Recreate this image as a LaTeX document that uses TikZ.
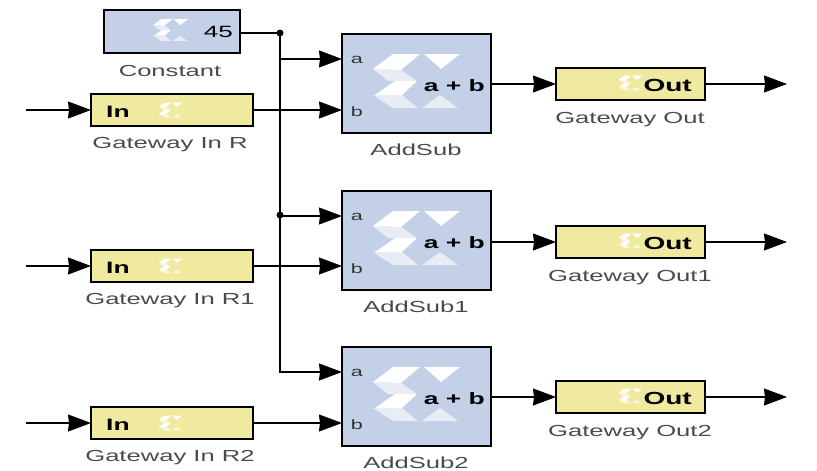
\documentclass[tikz,border=0pt]{standalone}
\usepackage{fontspec}
\usepackage{tikz}
\usetikzlibrary{arrows.meta}
\newfontfamily\simfont[FakeStretch=1.6]{Liberation Sans}
\definecolor{blockblue}{RGB}{196,208,232}
\definecolor{blockyellow}{RGB}{240,233,160}
\definecolor{labelgrey}{RGB}{70,74,84}
\tikzset{
	block/.style={draw=black,line width=1.3pt,inner sep=0pt,outer sep=0pt,anchor=north west},
	blue block/.style={block,fill=blockblue},
	yellow block/.style={block,fill=blockyellow},
	caption/.style={font=\simfont\fontsize{16}{18}\selectfont,text=labelgrey,inner sep=0pt,anchor=base},
	port/.style={font=\simfont\fontsize{13.5}{15}\selectfont,text=black!80,inner sep=0pt,anchor=base},
	value/.style={font=\simfont\bfseries\fontsize{16.5}{18}\selectfont,text=black,inner sep=0pt},
	signal/.style={draw=black,line width=1.1pt,-{Stealth[length=23pt,width=17pt,inset=1pt]}},
	wire/.style={draw=black,line width=1.1pt,line cap=rect},
	junction/.style={shape=circle,fill=black,inner sep=0pt,minimum size=7pt},
}
% logo, drawn from the middle of its block
\newcommand{\logo}[3]{%
	\begin{scope}[shift={(#1,#2)},scale=#3]
		\fill[white] (-42,-12) -- (-22,-27) -- (5,-27) -- (-14,-11) -- cycle;
		\fill[white] (9,-27) -- (45,-27) -- (26,-12) -- cycle;
		\fill[white,opacity=.6] (-42,-12) -- (-14,-11) -- (2,0) -- (-27,0) -- cycle;
		\fill[white] (-40,14) -- (-20,0) -- (2,0) -- (-13,14) -- cycle;
		\fill[white,opacity=.6] (-42,14) -- (-13,14) -- (3,27) -- (-22,27) -- cycle;
		\fill[white,opacity=.6] (7,27) -- (25,14) -- (43,27) -- cycle;
	\end{scope}}
\begin{document}
\begin{tikzpicture}[x=1pt,y=-1pt]
	\useasboundingbox (0,0) rectangle (817,471);

	\node[blue block,minimum width=136pt,minimum height=43pt] (const) at (104,10) {};
	\logo{170}{30}{.4}
	\node[value,anchor=base east,font=\simfont\fontsize{16.3}{18}\selectfont] (val) at (233,37) {45};
	\node[caption] (constcap) at (170,76) {Constant};

	\foreach \n/\inY/\addY/\outY/\inCap/\addCap/\outCap in {%
		0/94/34/68/Gateway In R/AddSub/Gateway Out,
		1/250/191/226/Gateway In R1/AddSub1/Gateway Out1,
		2/407/347/381/Gateway In R2/AddSub2/Gateway Out2}{
		\node[yellow block,minimum width=162pt,minimum height=32pt] (in\n) at (91,\inY) {};
		\logo{170}{\inY+16}{.27}
		\node[value,anchor=base west] (intext\n) at (106,\inY+23) {In};
		\node[caption] (incap\n) at (170,\inY+54) {\inCap};
		\node[blue block,minimum width=149pt,minimum height=99pt] (add\n) at (342,\addY) {};
		\logo{415}{\addY+47}{1}
		\node[port] (a\n) at (357,\addY+29) {a};
		\node[port] (b\n) at (357,\addY+82) {b};
		\node[value,anchor=base east] (sum\n) at (485,\addY+57) {a + b};
		\node[caption] (addcap\n) at (416,\addY+121) {\addCap};
		\node[yellow block,minimum width=149pt,minimum height=32pt] (out\n) at (556,\outY) {};
		\logo{630}{\outY+15}{.27}
		\node[value,anchor=base east,font=\simfont\bfseries\fontsize{17.5}{19}\selectfont] (outtext\n) at (692,\outY+23) {Out};
		\node[caption] (outcap\n) at (630,\outY+55) {\outCap};
		\coordinate (src\n) at (26,\inY+16);
		\coordinate (sink\n) at (787,\outY+16);
		\coordinate (pa\n) at (342,\addY+25);
		\coordinate (ja\n) at (280,\addY+25);
		\path (src\n) edge[signal] (in\n.west);
		\path (in\n.east) edge[signal] (add\n.west |- in\n.east);
		\path (ja\n) edge[signal] (pa\n);
		\path (add\n.east |- out\n.west) edge[signal] (out\n.west);
		\path (out\n.east) edge[signal] (sink\n);
	}

	\node[junction] (top) at (280,33) {};
	\node[junction] (mid) at (280,215) {};
	\path (const.east |- top) edge[wire] (top);
	\path (top) edge[wire] (ja2);
\end{tikzpicture}
\end{document}
